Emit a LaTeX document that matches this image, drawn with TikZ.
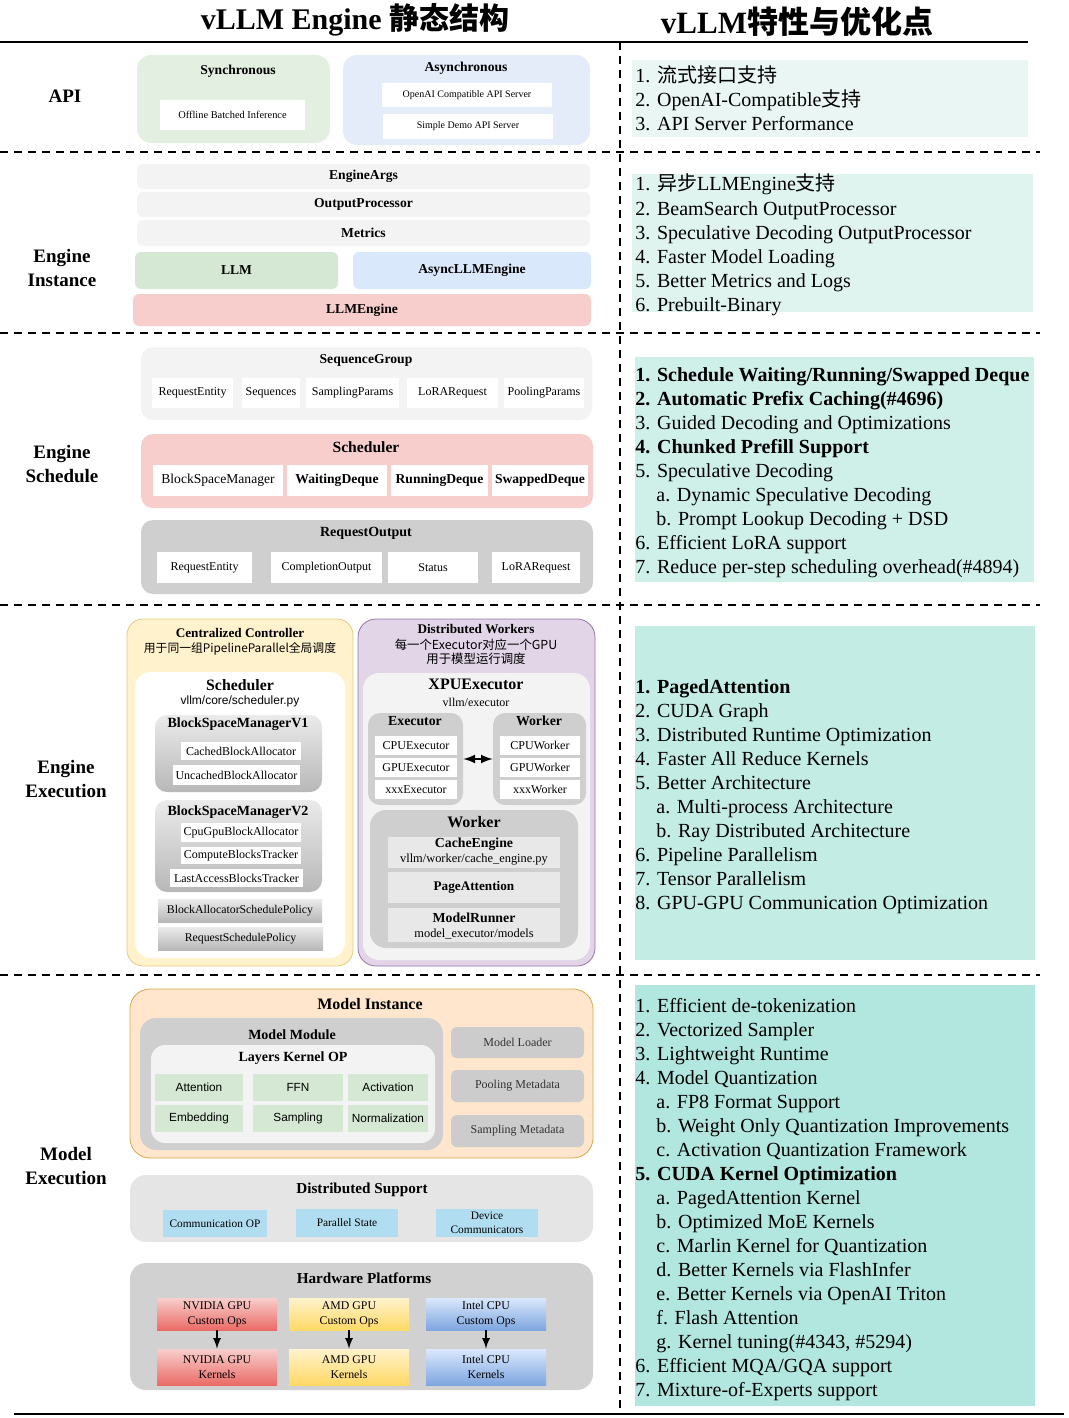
\documentclass[tikz,border=0pt]{standalone}
\usepackage{fontspec}
\setmainfont{Liberation Serif}
\setsansfont{Liberation Sans}
\newfontfamily\cjk{Noto Sans CJK SC}
\newcommand{\subin}{\hspace*{10.5pt}}
\definecolor{apigreen}{HTML}{E3EFE1}
\definecolor{apiblue}{HTML}{E3ECF8}
\definecolor{flatgray}{HTML}{F3F3F3}
\definecolor{llmgreen}{HTML}{D5E8D4}
\definecolor{llmblue}{HTML}{DAE8FC}
\definecolor{llmred}{HTML}{F8CECC}
\definecolor{midgray}{HTML}{CFCFCF}
\definecolor{ctrlfill}{HTML}{FFF2CC}
\definecolor{ctrldraw}{HTML}{E3CB80}
\definecolor{wrkfill}{HTML}{E1D5E7}
\definecolor{wrkdraw}{HTML}{9673A6}
\definecolor{mifill}{HTML}{FFE6CC}
\definecolor{midraw}{HTML}{D9A74A}
\definecolor{commblue}{HTML}{B1DDF0}
\definecolor{hwred}{HTML}{EA6B66}
\definecolor{hwyellow}{HTML}{FFD966}
\definecolor{hwblue}{HTML}{7EA6E0}
\definecolor{mintA}{HTML}{EAF6F3}
\definecolor{mintB}{HTML}{DFF3EF}
\definecolor{mintC}{HTML}{CFEFE9}
\definecolor{mintD}{HTML}{C3ECE4}
\definecolor{mintE}{HTML}{B1E7DE}
\begin{document}
\begin{tikzpicture}[x=0.5pt,y=-0.5pt,
  rect/.style n args={4}{at={({(#1+#3)/2},{(#2+#4)/2})},
    minimum width={(#3-#1)*0.5pt}, minimum height={(#4-#2)*0.5pt}},
  lab/.style={font=\fontsize{9.5}{12}\selectfont\bfseries, align=center},
  box/.style={inner sep=0pt, rounded corners=3pt},
  wbox/.style={inner sep=0pt, fill=white, align=center, font=\fontsize{6}{7.5}\selectfont},
  hd/.style={inner sep=0pt, font=\fontsize{6.8}{8}\selectfont\bfseries},
  sub/.style={inner sep=0pt, font=\fontsize{6}{7}\selectfont},
  shade1/.style={top color=white!92!black, bottom color=white!72!black},
  item/.style={anchor=base west, inner sep=0pt, font=\fontsize{10}{12}\selectfont},
  sep/.style={dash pattern=on 4pt off 3pt, line width=1pt}]
\useasboundingbox (0,0) rectangle (1069,1418);

% titles and frame
\node[font=\fontsize{15}{18}\selectfont\bfseries] (title1) at (355,20) {vLLM Engine {\cjk 静态结构}};
\node[font=\fontsize{15.5}{18}\selectfont\bfseries] (title2) at (797,22) {vLLM{\cjk 特性与优化点}};
\draw[line width=1pt] (0,42) -- (1028,42);
\draw[line width=1pt] (14,1414) -- (1064,1414);
\foreach \y in {152,333,605,975}
  \draw[sep] (0,\y) -- (1040,\y);
\draw[sep] (620,42) -- (620,1412);

\node[lab] (lapi) at (65,96) {API};
\node[lab] (linst) at (62,268) {Engine\\Instance};
\node[lab] (lsched) at (62,464) {Engine\\Schedule};
\node[lab] (lexec) at (66,779) {Engine\\Execution};
\node[lab] (lmodel) at (66,1166) {Model\\Execution};

% API
\node[box, rounded corners=7pt, fill=apigreen, rect={137}{55}{330}{143}] (sync) {};
\node[hd] (syncT) at (238,71) {Synchronous};
\node[wbox, font=\fontsize{5.2}{6}\selectfont, rect={160}{100}{305}{130}] (offline) {Offline Batched Inference};
\node[box, rounded corners=7pt, fill=apiblue, rect={343}{55}{590}{145}] (async) {};
\node[hd] (asyncT) at (466,68) {Asynchronous};
\node[wbox, font=\fontsize{5}{6}\selectfont, rect={382}{83}{552}{107}] (openai) {OpenAI Compatible API Server};
\node[wbox, font=\fontsize{5}{6}\selectfont, rect={383}{114}{553}{139}] (demo) {Simple Demo API Server};

% Engine Instance
\node[box, fill=flatgray, hd, rect={137}{164}{590}{189}] (eargs) {EngineArgs};
\node[box, fill=flatgray, hd, rect={137}{192}{590}{217}] (oproc) {OutputProcessor};
\node[box, fill=flatgray, hd, rect={137}{220}{590}{246}] (metrics) {Metrics};
\node[box, fill=llmgreen, hd, rect={135}{252}{338}{289}] (llm) {LLM};
\node[box, fill=llmblue, hd, rect={353}{252}{591}{289}] (allm) {AsyncLLMEngine};
\node[box, fill=llmred, hd, rect={133}{294}{591}{326}] (llme) {LLMEngine};

% Engine Schedule
\node[box, rounded corners=6pt, fill=flatgray, rect={141}{347}{592}{420}] (seqg) {};
\node[hd] (seqgT) at (366,360) {SequenceGroup};
\foreach \xa/\xb/\txt [count=\i] in {152/233/RequestEntity, 242/300/Sequences,
    306/399/SamplingParams, 407/498/LoRARequest, 504/584/PoolingParams}
  \node[wbox, rect={\xa}{378}{\xb}{408}] (sg\i) {\txt};
\node[box, rounded corners=6pt, fill=llmred, rect={141}{434}{593}{508}] (sch) {};
\node[hd, font=\fontsize{7.8}{9}\selectfont\bfseries] (schT) at (366,447) {Scheduler};
\node[wbox, font=\fontsize{6.8}{8}\selectfont, rect={153}{465}{283}{496}] (bsm) {BlockSpaceManager};
\foreach \xa/\xb/\txt [count=\i] in {287/387/WaitingDeque, 391/488/RunningDeque, 492/588/SwappedDeque}
  \node[wbox, font=\fontsize{6.8}{8}\selectfont\bfseries, rect={\xa}{465}{\xb}{496}] (dq\i) {\txt};
\node[box, rounded corners=6pt, fill=midgray, rect={141}{520}{593}{594}] (rout) {};
\node[hd, font=\fontsize{7}{8}\selectfont\bfseries] (routT) at (366,533) {RequestOutput};
\foreach \xa/\xb/\txt [count=\i] in {157/252/RequestEntity, 271/382/CompletionOutput,
    388/478/Status, 492/580/LoRARequest}
  \node[wbox, rect={\xa}{552}{\xb}{583}] (ro\i) {\txt};

% Engine Execution: controller
\node[box, rounded corners=8pt, fill=ctrlfill, draw=ctrldraw, rect={127}{619}{353}{966}] (ctrl) {};
\node[hd, font=\fontsize{6.6}{8}\selectfont\bfseries] (ctrlT) at (240,633) {Centralized Controller};
\node[sub, font=\cjk\fontsize{5.9}{8}\selectfont] (ctrlS) at (240,649) {用于同一组PipelineParallel全局调度};
\node[box, rounded corners=8pt, fill=white, rect={135}{672}{345}{958}] (schw) {};
\node[hd, font=\fontsize{7.9}{9}\selectfont\bfseries] (schwT) at (240,685) {Scheduler};
\node[sub, font=\sffamily\fontsize{6}{7}\selectfont] (schwS) at (240,701) {vllm/core/scheduler.py};
\node[box, rounded corners=6pt, shade1, rect={155}{715}{322}{792}] (bsm1) {};
\node[hd, font=\fontsize{7}{8}\selectfont\bfseries] (bsm1T) at (238,724) {BlockSpaceManagerV1};
\node[wbox, rect={181}{742}{301}{760}] (cba) {CachedBlockAllocator};
\node[wbox, rect={173}{765}{300}{785}] (uba) {UncachedBlockAllocator};
\node[box, rounded corners=6pt, shade1, rect={155}{800}{322}{892}] (bsm2) {};
\node[hd, font=\fontsize{7}{8}\selectfont\bfseries] (bsm2T) at (238,812) {BlockSpaceManagerV2};
\node[wbox, rect={181}{823}{301}{842}] (cgba) {CpuGpuBlockAllocator};
\node[wbox, rect={181}{847}{301}{864}] (cbt) {ComputeBlocksTracker};
\node[wbox, rect={170}{869}{303}{887}] (labt) {LastAccessBlocksTracker};
\node[inner sep=0pt, shade1, font=\fontsize{5.9}{7}\selectfont, rect={158}{899}{322}{922}] (pol1) {BlockAllocatorSchedulePolicy};
\node[inner sep=0pt, shade1, font=\fontsize{5.9}{7}\selectfont, rect={158}{927}{323}{950}] (pol2) {RequestSchedulePolicy};

% Engine Execution: workers
\node[box, rounded corners=9pt, fill=wrkfill, draw=wrkdraw, rect={358}{619}{595}{966}] (wrk) {};
\node[hd, font=\fontsize{6.6}{8}\selectfont\bfseries] (wrkT) at (476,629) {Distributed Workers};
\node[sub, font=\cjk\fontsize{6.2}{7}\selectfont, align=center] (wrkS) at (476,652) {每一个Executor对应一个GPU\\用于模型运行调度};
\node[box, rounded corners=8pt, fill=flatgray, rect={363}{673}{590}{960}] (xpu) {};
\node[hd, font=\fontsize{8}{9}\selectfont\bfseries] (xpuT) at (476,684) {XPUExecutor};
\node[sub] (xpuS) at (476,702) {vllm/executor};
\node[box, rounded corners=6pt, fill=midgray, rect={368}{713}{463}{805}] (exe) {};
\node[hd, font=\fontsize{6.9}{8}\selectfont\bfseries] (exeT) at (415,721) {Executor};
\node[box, rounded corners=6pt, fill=midgray, rect={493}{713}{586}{805}] (wk) {};
\node[hd, font=\fontsize{6.9}{8}\selectfont\bfseries] (wkT) at (539,721) {Worker};
\foreach \y/\ta/\tb [count=\i] in {736/CPUExecutor/CPUWorker, 758/GPUExecutor/GPUWorker, 780/xxxExecutor/xxxWorker} {
  \node[wbox, rect={375}{\y}{457}{\y+19}] (ex\i) {\ta};
  \node[wbox, rect={500}{\y}{580}{\y+19}] (wk\i) {\tb};
}
\draw[<->, >=latex, line width=1pt] (exe) -- (wk);
\node[box, rounded corners=8pt, fill=midgray, rect={370}{810}{578}{948}] (bigw) {};
\node[hd, font=\fontsize{8}{9}\selectfont\bfseries] (bigwT) at (474,822) {Worker};
\node[inner sep=0pt, fill=white!91!black, rect={388}{837}{560}{868}] (cache) {};
\node[hd, font=\fontsize{6.9}{8}\selectfont\bfseries] (cacheT) at (474,844) {CacheEngine};
\node[sub, font=\fontsize{6.2}{7}\selectfont] (cacheS) at (474,860) {vllm/worker/cache\_engine.py};
\node[inner sep=0pt, fill=white!91!black, hd, font=\fontsize{6.6}{8}\selectfont\bfseries, rect={388}{872}{560}{903}] (page) {PageAttention};
\node[inner sep=0pt, fill=white!91!black, rect={388}{908}{560}{942}] (runner) {};
\node[hd, font=\fontsize{6.9}{8}\selectfont\bfseries] (runT) at (474,918) {ModelRunner};
\node[sub, font=\fontsize{6.2}{7}\selectfont] (runS) at (474,934) {model\_executor/models};

% Model Execution
\node[box, rounded corners=10pt, fill=mifill, draw=midraw, rect={130}{989}{593}{1158}] (minst) {};
\node[hd, font=\fontsize{8}{9}\selectfont\bfseries] (minstT) at (370,1004) {Model Instance};
\node[box, rounded corners=8pt, fill=midgray, rect={140}{1018}{443}{1150}] (mmod) {};
\node[hd, font=\fontsize{7}{8}\selectfont\bfseries] (mmodT) at (292,1035) {Model Module};
\node[box, rounded corners=7pt, fill=flatgray, rect={151}{1045}{435}{1143}] (lko) {};
\node[hd, font=\fontsize{7}{8}\selectfont\bfseries] (lkoT) at (293,1058) {Layers Kernel OP};
\foreach \xa/\xb/\ta/\tb [count=\i] in {155/243/Attention/Embedding, 253/343/FFN/Sampling, 348/428/Activation/Normalization} {
  \node[inner sep=0pt, fill=llmgreen, font=\sffamily\fontsize{5.9}{7}\selectfont, rect={\xa}{1074}{\xb}{1101}] (op\i) {\ta};
  \node[inner sep=0pt, fill=llmgreen, font=\sffamily\fontsize{5.9}{7}\selectfont, rect={\xa}{1105}{\xb}{1132}] (opb\i) {\tb};
}
\foreach \ya/\yb/\txt [count=\i] in {1027/1058/Model Loader, 1070/1102/Pooling Metadata, 1115/1147/Sampling Metadata}
  \node[box, fill=white!80!black, text=black!80, font=\fontsize{6}{7}\selectfont, rect={451}{\ya}{584}{\yb}] (meta\i) {\txt};

\node[box, rounded corners=8pt, fill=white!90!black, rect={130}{1175}{593}{1242}] (dsup) {};
\node[hd, font=\fontsize{7.6}{9}\selectfont\bfseries] (dsupT) at (362,1190) {Distributed Support};
\node[inner sep=0pt, fill=commblue, align=center, font=\fontsize{5.7}{7.2}\selectfont, rect={163}{1210}{267}{1237}] (comm) {Communication OP};
\node[inner sep=0pt, fill=commblue, align=center, font=\fontsize{5.7}{7.2}\selectfont, rect={296}{1209}{398}{1237}] (pstate) {Parallel State};
\node[inner sep=0pt, fill=commblue, align=center, font=\fontsize{5.7}{7.2}\selectfont, rect={436}{1209}{538}{1237}] (devc) {Device\\Communicators};

\node[box, rounded corners=8pt, fill=white!82!black, rect={130}{1263}{593}{1390}] (hw) {};
\node[hd, font=\fontsize{7.6}{9}\selectfont\bfseries] (hwT) at (364,1278) {Hardware Platforms};
\foreach \xa/\xb/\ct/\cb/\nm/\vendor in {157/277/llmred/hwred/nv/NVIDIA GPU,
    289/409/ctrlfill/hwyellow/amd/AMD GPU, 426/546/llmblue/hwblue/intel/Intel CPU} {
  \node[inner sep=0pt, top color=\ct, bottom color=\cb, align=center, font=\fontsize{5.9}{7.5}\selectfont, rect={\xa}{1298}{\xb}{1330}] (\nm1) {\vendor\\Custom Ops};
  \node[inner sep=0pt, top color=\ct, bottom color=\cb, align=center, font=\fontsize{5.9}{7.5}\selectfont, rect={\xa}{1349}{\xb}{1385}] (\nm2) {\vendor\\Kernels};
  \draw[->, >=latex, line width=0.8pt] (\nm1) -- (\nm2);
}

% feature lists
\node[inner sep=0pt, fill=mintA, rect={632}{60}{1028}{137}] (feat1) {};
\node[inner sep=0pt, fill=mintB, rect={632}{174}{1033}{312}] (feat2) {};
\node[inner sep=0pt, fill=mintC, rect={635}{357}{1034}{582}] (feat3) {};
\node[inner sep=0pt, fill=mintD, rect={635}{626}{1035}{960}] (feat4) {};
\node[inner sep=0pt, fill=mintE, rect={635}{985}{1035}{1406}] (feat5) {};

\foreach \txt [count=\i from 0] in {1. {\cjk 流式接口支持}, 2. OpenAI-Compatible{\cjk 支持}, 3. API Server Performance}
  \node[item] (fa\i) at (635,83+24*\i) {\txt};
\foreach \txt [count=\i from 0] in {1. {\cjk 异步}LLMEngine{\cjk 支持}, 2. BeamSearch OutputProcessor,
    3. Speculative Decoding OutputProcessor, 4. Faster Model Loading, 5. Better Metrics and Logs, 6. Prebuilt-Binary}
  \node[item] (fb\i) at (635,191+24*\i) {\txt};
\foreach \txt [count=\i from 0] in {\textbf{1. Schedule Waiting/Running/Swapped Deque},
    \textbf{2. Automatic Prefix Caching(\#4696)}, 3. Guided Decoding and Optimizations,
    \textbf{4. Chunked Prefill Support}, 5. Speculative Decoding,
    \subin a. Dynamic Speculative Decoding, \subin b. Prompt Lookup Decoding + DSD,
    6. Efficient LoRA support, 7. Reduce per-step scheduling overhead(\#4894)}
  \node[item] (fc\i) at (635,381+24*\i) {\txt};
\foreach \txt [count=\i from 0] in {\textbf{1. PagedAttention}, 2. CUDA Graph,
    3. Distributed Runtime Optimization, 4. Faster All Reduce Kernels, 5. Better Architecture,
    \subin a. Multi-process Architecture, \subin b. Ray Distributed Architecture,
    6. Pipeline Parallelism, 7. Tensor Parallelism, 8. GPU-GPU Communication Optimization}
  \node[item] (fd\i) at (635,693+24*\i) {\txt};
\foreach \txt [count=\i from 0] in {1. Efficient de-tokenization, 2. Vectorized Sampler,
    3. Lightweight Runtime, 4. Model Quantization, \subin a. FP8 Format Support,
    \subin b. Weight Only Quantization Improvements, \subin c. Activation Quantization Framework,
    \textbf{5. CUDA Kernel Optimization}, \subin a. PagedAttention Kernel,
    \subin b. Optimized MoE Kernels, \subin c. Marlin Kernel for Quantization,
    \subin d. Better Kernels via FlashInfer, \subin e. Better Kernels via OpenAI Triton,
    \subin f. Flash Attention, {\subin g. Kernel tuning(\#4343, \#5294)},
    6. Efficient MQA/GQA support, 7. Mixture-of-Experts support}
  \node[item] (fe\i) at (635,1012+24*\i) {\txt};
\end{tikzpicture}
\end{document}
